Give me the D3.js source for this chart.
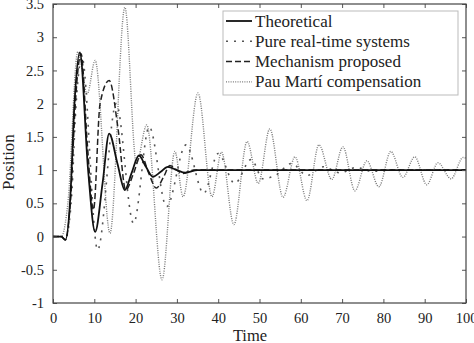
<!DOCTYPE html>
<html>
<head>
<meta charset="utf-8">
<script src="https://cdn.jsdelivr.net/npm/d3@7"></script>
<style>
  html, body { margin: 0; padding: 0; background: #fff; }
  svg, svg text { font-family: "Times New Roman", Times, "Liberation Serif", "DejaVu Serif", serif; }
</style>
</head>
<body>
<div id="chart"></div>
<script>
const width = 474;
const height = 343;
const serif = '"Times New Roman", Times, "Liberation Serif", "DejaVu Serif", serif';

// step responses (time, position)
const theoT = [0, 2, 3, 4.2, 5.2, 6.5, 8.5, 10.2, 12, 13.6, 15.6, 17.4, 19, 20.8, 22.5, 24.2, 26, 27.8, 30, 32, 35, 40, 100];
const theoY = [0, 0, -0.05, 0.6, 2.0, 2.77, 1.0, 0.07, 0.8, 1.55, 1.1, 0.7, 0.95, 1.22, 1.05, 0.9, 0.97, 1.05, 1.0, 0.96, 1.0, 1.0, 1.0];

const pureT = [0, 2, 3, 4.5, 5.5, 7, 10.8, 15.3, 19.5, 23.3, 27.5, 32.2, 36.5, 40, 44, 48, 50.8, 53.8, 57.8, 61.5, 65.5, 69.5, 73.5, 77.2, 81.6, 86, 100];
const pureY = [0, 0, -0.03, 0.6, 1.9, 2.7, -0.2, 2.0, 0.2, 1.65, 0.45, 1.38, 0.65, 1.25, 0.8, 1.16, 0.87, 0.92, 1.1, 0.92, 1.05, 0.96, 1.04, 0.98, 1.0, 1.0, 1.0];

const mechT = [0, 2, 3, 4.3, 5.4, 6.8, 8.3, 9.8, 11.4, 13.6, 15.8, 17.6, 19.5, 21.3, 23.2, 25, 26.8, 28.3, 30, 31.5, 34, 40, 100];
const mechY = [0, 0, -0.05, 0.6, 2.0, 2.75, 1.4, 0.4, 2.0, 2.35, 1.6, 0.7, 0.95, 1.23, 0.95, 0.73, 0.9, 1.07, 1.0, 0.95, 1.0, 1.0, 1.0];

const martiT = [0, 2, 3.6, 6, 8.3, 10.2, 13.8, 17.4, 20.2, 22.7, 26.4, 29.5, 31.5, 35.1, 38.5, 40.8, 43.8, 47, 49.7, 52.5, 55.7, 58.6, 61.5, 64.4, 67.5, 70.2, 73.1, 76, 78.9, 81.8, 84.7, 87.6, 90.5, 93.2, 96.4, 99.3, 100];
const martiY = [0, 0, 0.5, 2.78, 2.15, 2.65, 0.05, 3.45, 1.1, 1.68, -0.65, 1.28, 0.6, 2.16, 0.6, 1.27, 0.18, 1.43, 0.8, 1.62, 0.59, 1.2, 0.54, 1.38, 0.86, 1.35, 0.69, 1.14, 0.75, 1.28, 0.89, 1.2, 0.78, 1.11, 0.87, 1.19, 1.18];

const xTicks = [0, 10, 20, 30, 40, 50, 60, 70, 80, 90, 100];
const yTicks = [-1, -0.5, 0, 0.5, 1, 1.5, 2, 2.5, 3, 3.5];

const series = [
  { name: "Pau Martí compensation", t: martiT, y: martiY, color: "#7a7a7a", w: 1.4, dash: "1,1.3" },
  { name: "Pure real-time systems", t: pureT, y: pureY, color: "#555", w: 1.6, dash: "2,6" },
  { name: "Mechanism proposed", t: mechT, y: mechY, color: "#222", w: 1.5, dash: "6,3" },
  { name: "Theoretical", t: theoT, y: theoY, color: "#111", w: 1.8, dash: null },
];
const legendOrder = ["Theoretical", "Pure real-time systems", "Mechanism proposed", "Pau Martí compensation"];

const margin = { left: 53, right: 8, top: 4, bottom: 40 };

const x = d3.scaleLinear().domain([0, 100]).range([margin.left, width - margin.right]);
const y = d3.scaleLinear().domain([-1, 3.5]).range([height - margin.bottom, margin.top]);

const svg = d3
  .select("#chart")
  .append("svg")
  .attr("width", width)
  .attr("height", height)
  .attr("viewBox", `0 0 ${width} ${height}`);

const line = d3
  .line()
  .x((d) => x(d[0]))
  .y((d) => y(d[1]))
  .curve(d3.curveMonotoneX);

svg
  .append("defs")
  .append("clipPath")
  .attr("id", "plot")
  .append("rect")
  .attr("x", x(0))
  .attr("y", y(3.5))
  .attr("width", x(100) - x(0))
  .attr("height", y(-1) - y(3.5));

const lines = svg.append("g").attr("clip-path", "url(#plot)");

series.forEach((s) => {
  lines
    .append("path")
    .datum(s.t.map((t, i) => [t, s.y[i]]))
    .attr("fill", "none")
    .attr("stroke", s.color)
    .attr("stroke-width", s.w)
    .attr("stroke-dasharray", s.dash)
    .attr("d", line);
});

// axes, MATLAB style: ticks inside on all four sides
function styleAxis(g) {
  g.attr("font-family", serif).attr("font-size", 14.5);
  g.select(".domain").remove();
  g.selectAll("line").attr("stroke", "#555");
  g.selectAll("text").attr("fill", "#222");
}

svg
  .append("g")
  .attr("transform", `translate(0,${y(-1)})`)
  .call(d3.axisBottom(x).tickValues(xTicks).tickSize(-4).tickPadding(10).tickFormat(d3.format("d")))
  .call(styleAxis);

svg
  .append("g")
  .attr("transform", `translate(${x(0)},0)`)
  .call(d3.axisLeft(y).tickValues(yTicks).tickSize(-4).tickPadding(9).tickFormat((d) => String(d)))
  .call(styleAxis);

svg
  .append("g")
  .attr("transform", `translate(0,${y(3.5)})`)
  .call(d3.axisTop(x).tickValues(xTicks).tickSize(-4).tickFormat(""))
  .call(styleAxis);

svg
  .append("g")
  .attr("transform", `translate(${x(100)},0)`)
  .call(d3.axisRight(y).tickValues(yTicks).tickSize(-4).tickFormat(""))
  .call(styleAxis);

svg
  .append("rect")
  .attr("x", x(0))
  .attr("y", y(3.5))
  .attr("width", x(100) - x(0))
  .attr("height", y(-1) - y(3.5))
  .attr("fill", "none")
  .attr("stroke", "#444")
  .attr("stroke-width", 1.2);

// axis titles
svg
  .append("text")
  .attr("x", 250)
  .attr("y", 340.5)
  .attr("text-anchor", "middle")
  .attr("fill", "#222")
  .attr("font-family", serif)
  .attr("font-size", 16.5)
  .text("Time");

svg
  .append("text")
  .attr("transform", "translate(14,162) rotate(-90)")
  .attr("text-anchor", "middle")
  .attr("fill", "#222")
  .attr("font-family", serif)
  .attr("font-size", 17)
  .text("Position");

// legend
const legend = svg.append("g").attr("font-family", serif).attr("font-size", 17);
legend
  .append("rect")
  .attr("x", 223)
  .attr("y", 11)
  .attr("width", 235)
  .attr("height", 84)
  .attr("fill", "#fff")
  .attr("stroke", "#bbb")
  .attr("stroke-width", 1);

legendOrder.forEach((name, i) => {
  const s = series.find((d) => d.name === name);
  const ly = 21 + i * 20.3;
  legend
    .append("line")
    .attr("x1", 226)
    .attr("x2", 252)
    .attr("y1", ly)
    .attr("y2", ly)
    .attr("stroke", s.color)
    .attr("stroke-width", s.w)
    .attr("stroke-dasharray", s.dash);
  legend
    .append("text")
    .attr("x", 255)
    .attr("y", ly + 5.5)
    .attr("fill", "#222")
    .text(name);
});
</script>
</body>
</html>
